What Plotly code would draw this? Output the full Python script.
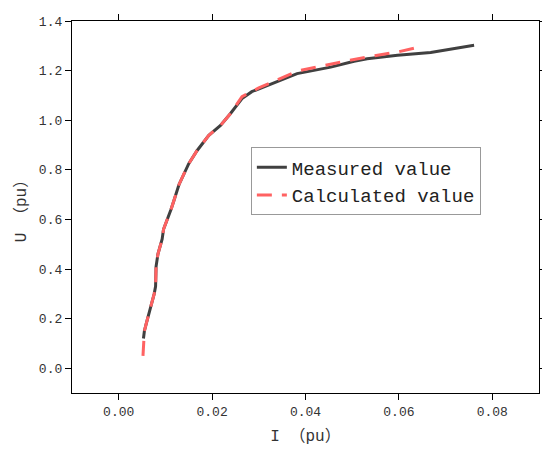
import plotly.graph_objects as go

# Measured curve (I in pu, U in pu)
i_measured = [0.0053, 0.0055, 0.0059, 0.0065, 0.0071, 0.0076, 0.0079, 0.0079, 0.0080,
              0.0084, 0.0093, 0.0096, 0.0107, 0.0112, 0.0119, 0.0129, 0.0150, 0.0168,
              0.0193, 0.0218, 0.0239, 0.0264, 0.0285, 0.0325, 0.0382, 0.0454, 0.0504,
              0.0532, 0.0597, 0.0668, 0.0761]
u_measured = [0.12, 0.15, 0.18, 0.22, 0.26, 0.30, 0.33, 0.37, 0.41,
              0.46, 0.52, 0.56, 0.61, 0.64, 0.68, 0.74, 0.825, 0.878,
              0.939, 0.979, 1.026, 1.087, 1.115, 1.145, 1.188, 1.214, 1.238,
              1.248, 1.262, 1.273, 1.302]

# Calculated curve
i_calculated = [0.0052, 0.0053, 0.0055, 0.0059, 0.0065, 0.0071, 0.0076, 0.0079, 0.0079,
                0.0080, 0.0084, 0.0093, 0.0096, 0.0107, 0.0112, 0.0119, 0.0129, 0.0150,
                0.0168, 0.0193, 0.0218, 0.0239, 0.0264, 0.0300, 0.0382, 0.0475, 0.0532,
                0.0597, 0.0650]
u_calculated = [0.05, 0.12, 0.15, 0.18, 0.22, 0.26, 0.30, 0.33, 0.37,
                0.41, 0.46, 0.52, 0.56, 0.61, 0.64, 0.68, 0.74, 0.825,
                0.878, 0.939, 0.979, 1.026, 1.095, 1.13, 1.198, 1.234, 1.255,
                1.275, 1.298]

x_ticks = [0.00, 0.02, 0.04, 0.06, 0.08]
y_ticks = [0.0, 0.2, 0.4, 0.6, 0.8, 1.0, 1.2, 1.4]
x_range = [-0.01, 0.09]
y_range = [-0.1, 1.4]

FONT = "Liberation Mono, Noto Sans CJK SC, monospace"

fig = go.Figure()
fig.add_trace(go.Scatter(x=i_measured, y=u_measured, mode="lines", name="Measured value",
                         line=dict(color="#404040", width=3)))
fig.add_trace(go.Scatter(x=i_calculated, y=u_calculated, mode="lines", name="Calculated value",
                         line=dict(color="#ff6262", width=3, dash="15px,10px")))

axis_common = dict(showgrid=False, zeroline=False, showline=True, linecolor="black",
                   linewidth=1.3, tickcolor="black", ticklen=6, tickwidth=1.3,
                   mirror="ticks", ticks="outside", automargin=False)

fig.update_layout(
    width=542, height=448,
    margin=dict(l=64, r=11, t=13, b=63),
    plot_bgcolor="white", paper_bgcolor="white",
    font=dict(family=FONT, size=13, color="#333333"),
    xaxis=dict(range=x_range, tickvals=x_ticks, tickformat=".2f",
               title=dict(text="I （pu）", font=dict(size=16), standoff=11), **axis_common),
    yaxis=dict(range=y_range, tickvals=y_ticks, tickformat=".1f",
               title=dict(text="U （pu）", font=dict(size=16), standoff=8), **axis_common),
    legend=dict(x=0.383, y=0.66, xanchor="left", yanchor="top",
                bordercolor="#999999", borderwidth=1, bgcolor="white",
                font=dict(size=19, color="#222222"), tracegroupgap=0),
    showlegend=True,
)

fig.write_html("out.html")
